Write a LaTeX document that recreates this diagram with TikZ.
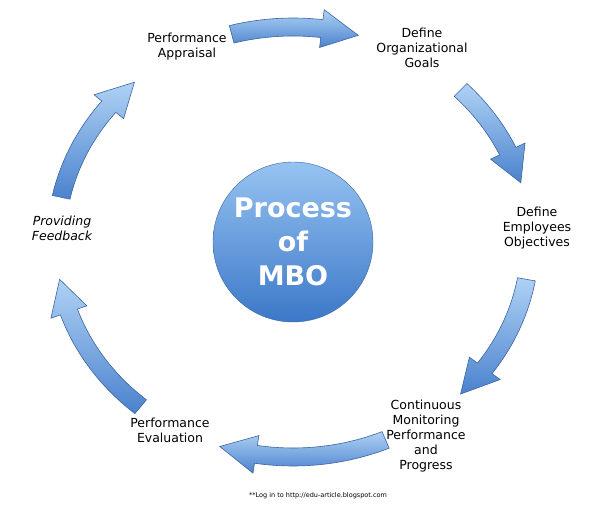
\documentclass[tikz,border=0pt]{standalone}
\usepackage{fontspec}
\setmainfont{DejaVu Sans}
\begin{document}
\begin{tikzpicture}[x=1pt,y=-1pt,
  lbl/.style={align=center,font=\fontsize{12.5}{15}\selectfont},
  blk/.style={draw={rgb,255:red,60;green,100;blue,160},line width=0.6pt,top color={rgb,255:red,175;green,210;blue,245},bottom color={rgb,255:red,75;green,130;blue,205}}]
\useasboundingbox (0,0) rectangle (600,513);
\def\cx{293}\def\cy{242}\def\rx{237}\def\ry{215}
\newcommand\mboarrow[2]{%
  \pgfmathsetmacro\ah{#2+9}%
  \path[blk] plot[domain=#1:\ah,samples=30,variable=\t] ({\cx+(\rx+9)*cos(\t)},{\cy-(\ry+9)*sin(\t)})
   -- ({\cx+(\rx+19)*cos(\ah)},{\cy-(\ry+19)*sin(\ah)})
   -- ({\cx+\rx*cos(#2)},{\cy-\ry*sin(#2)})
   -- ({\cx+(\rx-19)*cos(\ah)},{\cy-(\ry-19)*sin(\ah)})
   -- plot[domain=\ah:#1,samples=30,variable=\t] ({\cx+(\rx-9)*cos(\t)},{\cy-(\ry-9)*sin(\t)}) -- cycle;}
\mboarrow{105}{74}
\mboarrow{45}{16}
\mboarrow{-10}{-45}
\mboarrow{-67}{-108}
\mboarrow{-130}{-170}
\mboarrow{168}{132}
\shade[top color={rgb,255:red,150;green,195;blue,240}, bottom color={rgb,255:red,60;green,120;blue,200}, draw={rgb,255:red,60;green,100;blue,160}] (293,242) circle (80);
\node[circle, text=white, align=center, font=\bfseries\fontsize{27}{34}\selectfont] (c) at (293,242) {Process\\of\\MBO};
\node[lbl] (pa) at (187,47) {Performance\\Appraisal};
\node[lbl] (og) at (422,48) {Define\\Organizational\\Goals};
\node[lbl] (eo) at (537,228) {Define\\Employees\\Objectives};
\node[lbl] (cm) at (426,436) {Continuous\\Monitoring\\Performance\\and\\Progress};
\node[lbl] (pe) at (170,430) {Performance\\Evaluation};
\node[lbl,font=\itshape\fontsize{12.5}{15}\selectfont] (pf) at (62,228) {Providing\\Feedback};
\node[font=\fontsize{6.5}{7}\selectfont] (ft) at (318,496) {**Log in to http://edu-article.blogspot.com};
\end{tikzpicture}
\end{document}
